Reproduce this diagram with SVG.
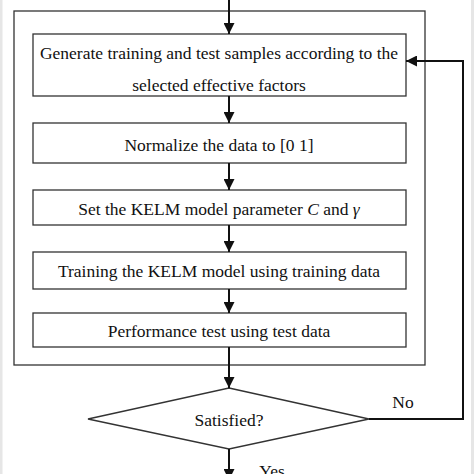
<svg xmlns="http://www.w3.org/2000/svg" width="474" height="474" viewBox="0 0 474 474">
<style>
.box{fill:#fff;stroke:#333;stroke-width:1.3}
.t{font-family:"Liberation Serif","Times New Roman",serif;font-size:17.5px;fill:#111;text-anchor:middle}
.c{fill:none;stroke:#111;stroke-width:2}
</style>
<defs>
<marker id="ah" viewBox="0 0 10 10" refX="10" refY="5" markerWidth="5.5" markerHeight="5.5" orient="auto" markerUnits="strokeWidth">
<path d="M0,0 L10,5 L0,10 z" fill="#111"/>
</marker>
</defs>
<rect x="0" y="0" width="474" height="474" fill="#fff"/>
<rect x="0" y="0" width="2.5" height="474" fill="#e6e6e6"/>
<rect x="471" y="0" width="3" height="474" fill="#e6e6e6"/>
<g id="outer"><rect class="box" x="14" y="11" width="411" height="354" fill="none"/></g>
<g id="n1"><rect class="box" x="33" y="34" width="373" height="62"/>
<text class="t" x="219" y="59">Generate training and test samples according to the</text>
<text class="t" x="219" y="91">selected effective factors</text></g>
<g id="n2"><rect class="box" x="33" y="123" width="373" height="40"/>
<text class="t" x="219" y="151">Normalize the data to [0 1]</text></g>
<g id="n3"><rect class="box" x="33" y="190" width="373" height="35"/>
<text class="t" x="219" y="215">Set the KELM model parameter <tspan font-style="italic">C</tspan> and <tspan font-style="italic">γ</tspan></text></g>
<g id="n4"><rect class="box" x="33" y="252" width="373" height="37"/>
<text class="t" x="219" y="277">Training the KELM model using training data</text></g>
<g id="n5"><rect class="box" x="33" y="313" width="373" height="34"/>
<text class="t" x="219" y="337">Performance test using test data</text></g>
<g id="n6"><polygon class="box" points="229,388 369,419 229,449 88,419"/>
<text class="t" x="229" y="426">Satisfied?</text></g>
<g id="connectors">
<line class="c" x1="229" y1="0" x2="229" y2="34" marker-end="url(#ah)"/>
<line class="c" x1="229" y1="96" x2="229" y2="123" marker-end="url(#ah)"/>
<line class="c" x1="229" y1="163" x2="229" y2="190" marker-end="url(#ah)"/>
<line class="c" x1="229" y1="225" x2="229" y2="252" marker-end="url(#ah)"/>
<line class="c" x1="229" y1="289" x2="229" y2="313" marker-end="url(#ah)"/>
<line class="c" x1="229" y1="347" x2="229" y2="388" marker-end="url(#ah)"/>
<polyline class="c" points="369,419 463,419 463,61 406,61" marker-end="url(#ah)"/>
<line class="c" x1="229" y1="449" x2="229" y2="480" marker-end="url(#ah)"/>
<text class="t" x="403" y="408">No</text>
<text class="t" x="272" y="477">Yes</text>
</g>
</svg>
